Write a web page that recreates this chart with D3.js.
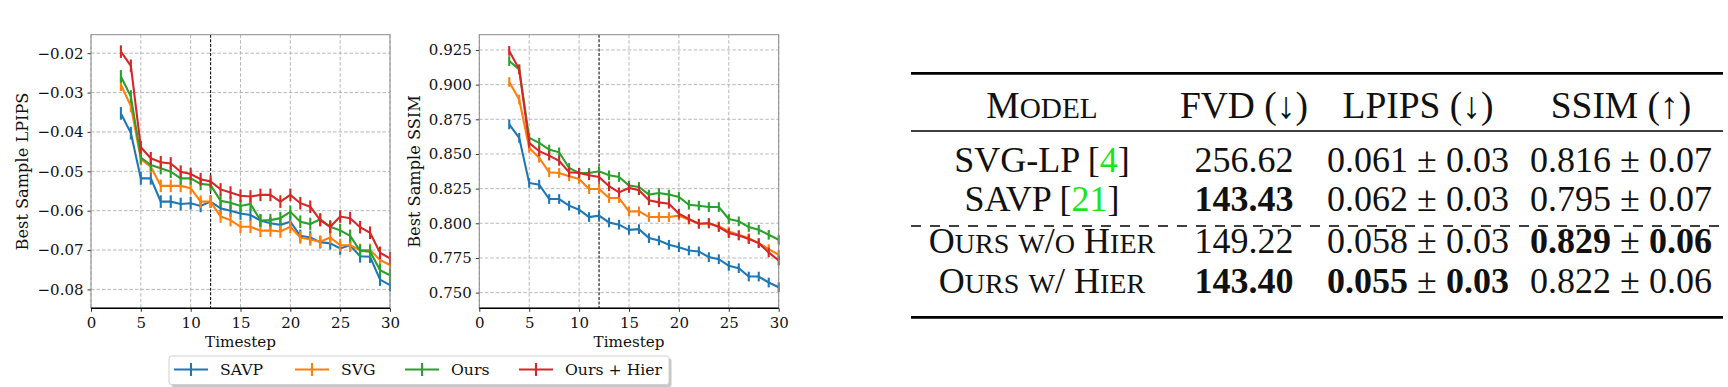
<!DOCTYPE html>
<html>
<head>
<meta charset="utf-8">
<script src="https://cdn.jsdelivr.net/npm/d3@7"></script>
<style>
body { margin: 0; background: #fff; }
svg { display: block; }
</style>
</head>
<body>
<svg id="fig" width="1728" height="387"></svg>
<script>
// ---- data ----
var timesteps = [3,4,5,6,7,8,9,10,11,12,13,14,15,16,17,18,19,20,21,22,23,24,25,26,27,28,29,30]
var seriesNames = ['SAVP', 'SVG', 'Ours', 'Ours + Hier']
var colors = ['#1f77b4', '#ff7f0e', '#2ca02c', '#d62728']

var lpipsSAVP = [-0.0353,-0.0403,-0.0518,-0.0518,-0.0577,-0.0577,-0.0583,-0.0581,-0.0588,-0.0577,-0.0594,-0.0600,-0.0607,-0.0611,-0.0625,-0.0632,-0.0636,-0.0628,-0.0664,-0.0668,-0.0680,-0.0683,-0.0696,-0.0688,-0.0716,-0.0717,-0.0775,-0.0789]
var lpipsSVG  = [-0.0280,-0.0334,-0.0469,-0.0488,-0.0537,-0.0537,-0.0537,-0.0543,-0.0577,-0.0577,-0.0615,-0.0624,-0.0641,-0.0641,-0.0651,-0.0650,-0.0653,-0.0641,-0.0668,-0.0673,-0.0679,-0.0668,-0.0688,-0.0688,-0.0700,-0.0700,-0.0725,-0.0738]
var lpipsOurs = [-0.0259,-0.0310,-0.0465,-0.0484,-0.0492,-0.0501,-0.0518,-0.0518,-0.0532,-0.0535,-0.0575,-0.0580,-0.0588,-0.0583,-0.0625,-0.0624,-0.0619,-0.0603,-0.0628,-0.0634,-0.0622,-0.0641,-0.0650,-0.0664,-0.0702,-0.0704,-0.0751,-0.0764]
var lpipsHier = [-0.0196,-0.0232,-0.0439,-0.0467,-0.0477,-0.0480,-0.0501,-0.0507,-0.0520,-0.0526,-0.0546,-0.0554,-0.0562,-0.0564,-0.0560,-0.0560,-0.0577,-0.0560,-0.0581,-0.0590,-0.0624,-0.0641,-0.0615,-0.0619,-0.0642,-0.0656,-0.0707,-0.0721]
var lpipsErr = [0.0016, 0.0016, 0.0016, 0.0016]

var ssimSAVP = [0.8713,0.8616,0.8291,0.8279,0.8175,0.8175,0.8127,0.8098,0.8045,0.8055,0.8006,0.7990,0.7953,0.7958,0.7893,0.7876,0.7845,0.7828,0.7804,0.7797,0.7756,0.7741,0.7693,0.7676,0.7616,0.7616,0.7573,0.7539]
var ssimSVG  = [0.9019,0.8893,0.8544,0.8472,0.8368,0.8363,0.8339,0.8320,0.8247,0.8247,0.8182,0.8182,0.8086,0.8086,0.8045,0.8045,0.8045,0.8055,0.8026,0.7997,0.7997,0.7978,0.7941,0.7917,0.7893,0.7857,0.7814,0.7773]
var ssimOurs = [0.9170,0.9110,0.8616,0.8580,0.8532,0.8512,0.8399,0.8363,0.8363,0.8375,0.8346,0.8334,0.8272,0.8262,0.8207,0.8218,0.8207,0.8190,0.8134,0.8127,0.8117,0.8117,0.8031,0.8014,0.7973,0.7953,0.7917,0.7881]
var ssimHier = [0.9243,0.9110,0.8580,0.8520,0.8488,0.8450,0.8368,0.8363,0.8346,0.8334,0.8267,0.8223,0.8255,0.8238,0.8166,0.8151,0.8141,0.8069,0.8031,0.7997,0.8002,0.7973,0.7929,0.7912,0.7886,0.7857,0.7790,0.7732]
var ssimErr = [0.0035, 0.0035, 0.0035, 0.0035]

var xTicks = [0, 5, 10, 15, 20, 25, 30]
var lpipsTicks = [-0.08, -0.07, -0.06, -0.05, -0.04, -0.03, -0.02]
var ssimTicks = [0.750, 0.775, 0.800, 0.825, 0.850, 0.875, 0.900, 0.925]
var splitStep = 12

// table
var tableHeaders = ['Model', 'FVD (\u2193)', 'LPIPS (\u2193)', 'SSIM (\u2191)']
var modelNames = ['SVG-LP', 'SAVP', 'Ours w/o Hier', 'Ours w/ Hier']
var modelCites = ['4', '21', null, null]
var fvdValues = [256.62, 143.43, 149.22, 143.40]
var lpipsMean = [0.061, 0.062, 0.058, 0.055]
var lpipsStd  = [0.03, 0.03, 0.03, 0.03]
var ssimMean  = [0.816, 0.795, 0.829, 0.822]
var ssimStd   = [0.07, 0.07, 0.06, 0.06]
var fvdBold   = [false, true, false, true]
var lpipsBold = [false, false, false, true]
var ssimBold  = [false, false, true, false]

var svg = d3.select('#fig')
svg.append('rect').attr('width', 1728).attr('height', 387).attr('fill', '#fff')

var plotFont = "'DejaVu Serif', serif"
var plotTop = 34.7, plotBottom = 308.3

function drawPanel(opts) {
  var x = d3.scaleLinear().domain([0, 30]).range([opts.left, opts.right])
  var y = d3.scaleLinear().domain(opts.yDomain).range([plotBottom, plotTop])
  var g = svg.append('g')

  // grid
  g.append('g').selectAll('line').data(xTicks).enter().append('line')
    .attr('x1', d => x(d)).attr('x2', d => x(d)).attr('y1', plotTop).attr('y2', plotBottom)
    .attr('stroke', '#b0b0b0').attr('stroke-width', 0.9).attr('stroke-dasharray', '3.5,2')
  g.append('g').selectAll('line').data(opts.yTicks).enter().append('line')
    .attr('x1', opts.left).attr('x2', opts.right).attr('y1', d => y(d)).attr('y2', d => y(d))
    .attr('stroke', '#b0b0b0').attr('stroke-width', 0.9).attr('stroke-dasharray', '3.5,2')

  // split marker
  g.append('line')
    .attr('x1', x(splitStep)).attr('x2', x(splitStep)).attr('y1', plotTop).attr('y2', plotBottom)
    .attr('stroke', '#111').attr('stroke-width', 1.1).attr('stroke-dasharray', '3,1.6')

  // series with error bars
  opts.series.forEach((vals, i) => {
    var pts = timesteps.map((t, j) => ({t: t, v: vals[j]}))
    g.append('path').datum(pts)
      .attr('fill', 'none').attr('stroke', colors[i]).attr('stroke-width', 2.1)
      .attr('d', d3.line().x(d => x(d.t)).y(d => y(d.v)))
    g.append('g').selectAll('line').data(pts).enter().append('line')
      .attr('x1', d => x(d.t)).attr('x2', d => x(d.t))
      .attr('y1', d => y(d.v - opts.err[i])).attr('y2', d => y(d.v + opts.err[i]))
      .attr('stroke', colors[i]).attr('stroke-width', 2.1)
  })

  // axes
  var ax = g.append('g').attr('transform', 'translate(0,' + plotBottom + ')')
    .call(d3.axisBottom(x).tickValues(xTicks).tickSize(3.5).tickPadding(3))
  var ay = g.append('g').attr('transform', 'translate(' + opts.left + ',0)')
    .call(d3.axisLeft(y).tickValues(opts.yTicks).tickFormat(d3.format(opts.fmt)).tickSize(3.5).tickPadding(4))
  ax.select('.domain').remove()
  ay.select('.domain').remove()
  ;[ax, ay].forEach(a => {
    a.selectAll('text').attr('font-family', plotFont).attr('font-size', 15).attr('fill', '#111')
    a.selectAll('line').attr('stroke', '#333')
  })
  ax.selectAll('text').attr('dy', '0.85em')

  // spines
  g.append('rect').attr('x', opts.left).attr('y', plotTop)
    .attr('width', opts.right - opts.left).attr('height', plotBottom - plotTop)
    .attr('fill', 'none').attr('stroke', '#8a8a8a').attr('stroke-width', 1)
  g.append('line').attr('x1', opts.left).attr('x2', opts.right).attr('y1', plotBottom).attr('y2', plotBottom)
    .attr('stroke', '#000').attr('stroke-width', 1.4)

  // labels
  g.append('text').text('Timestep')
    .attr('x', (opts.left + opts.right) / 2).attr('y', 347)
    .attr('text-anchor', 'middle').attr('font-family', plotFont).attr('font-size', 15.2).attr('fill', '#111')
  g.append('text').text(opts.yLabel)
    .attr('transform', 'translate(' + opts.yLabelX + ',' + (plotTop + plotBottom) / 2 + ') rotate(-90)')
    .attr('text-anchor', 'middle').attr('font-family', plotFont).attr('font-size', 16.2).attr('fill', '#111')
}

drawPanel({
  left: 91, right: 390, yDomain: [-0.0848, -0.0153], yTicks: lpipsTicks, fmt: '.2f',
  series: [lpipsSAVP, lpipsSVG, lpipsOurs, lpipsHier], err: lpipsErr,
  yLabel: 'Best Sample LPIPS', yLabelX: 27.5
})
drawPanel({
  left: 479.3, right: 778.7, yDomain: [0.7387, 0.936], yTicks: ssimTicks, fmt: '.3f',
  series: [ssimSAVP, ssimSVG, ssimOurs, ssimHier], err: ssimErr,
  yLabel: 'Best Sample SSIM', yLabelX: 419.5
})

// legend
var leg = svg.append('g').attr('transform', 'translate(169,356)')
leg.append('rect').attr('x', 2.5).attr('y', 2.5).attr('width', 500).attr('height', 28.5).attr('rx', 2.5)
  .attr('fill', '#999').attr('opacity', 0.55)
leg.append('rect').attr('width', 500).attr('height', 28.5).attr('rx', 2.5)
  .attr('fill', '#fff').attr('stroke', '#d0d0d0').attr('stroke-width', 1)
var legX = [5, 126, 236, 350]
seriesNames.forEach((name, i) => {
  var e = leg.append('g').attr('transform', 'translate(' + legX[i] + ',13.5)')
  e.append('line').attr('x1', 0).attr('x2', 34).attr('stroke', colors[i]).attr('stroke-width', 2.1)
  e.append('line').attr('x1', 17).attr('x2', 17).attr('y1', -6.5).attr('y2', 6.5).attr('stroke', colors[i]).attr('stroke-width', 2.1)
  e.append('text').text(name).attr('x', 46).attr('y', 5.5)
    .attr('font-family', plotFont).attr('font-size', 15.7).attr('fill', '#111')
})

// ---- table ----
var tfont = "'Liberation Serif', 'Times New Roman', serif"
var tbl = svg.append('g').attr('font-family', tfont).attr('fill', '#111')
var ruleL = 911, ruleR = 1723
var colX = [1042, 1244, 1418, 1621]
var headerY = 118
var rowY = [171.5, 210.5, 252.5, 293]

tbl.append('line').attr('x1', ruleL).attr('x2', ruleR).attr('y1', 73.3).attr('y2', 73.3).attr('stroke', '#000').attr('stroke-width', 2.8)
tbl.append('line').attr('x1', ruleL).attr('x2', ruleR).attr('y1', 131).attr('y2', 131).attr('stroke', '#000').attr('stroke-width', 1.6)
tbl.append('line').attr('x1', ruleL).attr('x2', ruleR).attr('y1', 226).attr('y2', 226).attr('stroke', '#000').attr('stroke-width', 1.4).attr('stroke-dasharray', '10,9')
tbl.append('line').attr('x1', ruleL).attr('x2', ruleR).attr('y1', 317.3).attr('y2', 317.3).attr('stroke', '#000').attr('stroke-width', 2.8)

// small caps: capitals at full size, lower case drawn as smaller capitals
function smallCaps(sel, str, size) {
  var runs = []
  str.split('').forEach(ch => {
    var small = ch !== ch.toUpperCase()
    var last = runs[runs.length - 1]
    if (last && last.small === small) last.t += ch
    else runs.push({t: ch, small: small})
  })
  runs.forEach(r => {
    sel.append('tspan').text(r.small ? r.t.toUpperCase() : r.t)
      .attr('font-size', r.small ? size * 0.78 : size)
  })
}

function cell(x, y, parts, size) {
  var t = tbl.append('text').attr('x', x).attr('y', y).attr('text-anchor', 'middle')
    .attr('font-size', size).style('white-space', 'pre')
  parts.forEach(p => {
    var s = t.append('tspan').text(p.t)
    if (p.b) s.attr('font-weight', 'bold')
    if (p.c) s.attr('fill', p.c)
  })
  return t
}

var headSize = 37.5, bodySize = 36
var h0 = tbl.append('text').attr('x', colX[0]).attr('y', headerY).attr('text-anchor', 'middle')
smallCaps(h0, tableHeaders[0], headSize)
tableHeaders.slice(1).forEach((h, i) => cell(colX[i + 1], headerY, [{t: h}], headSize))

modelNames.forEach((m, i) => {
  if (modelCites[i]) {
    cell(colX[0], rowY[i], [{t: m + ' ['}, {t: modelCites[i], c: '#19e619'}, {t: ']'}], bodySize)
  } else {
    var t = tbl.append('text').attr('x', colX[0]).attr('y', rowY[i]).attr('text-anchor', 'middle').style('white-space', 'pre')
    smallCaps(t, m, bodySize)
  }
  cell(colX[1], rowY[i], [{t: fvdValues[i].toFixed(2), b: fvdBold[i]}], bodySize)
  cell(colX[2], rowY[i], [{t: lpipsMean[i].toFixed(3), b: lpipsBold[i]}, {t: ' \u00b1 '}, {t: lpipsStd[i].toFixed(2), b: lpipsBold[i]}], bodySize)
  cell(colX[3], rowY[i], [{t: ssimMean[i].toFixed(3), b: ssimBold[i]}, {t: ' \u00b1 '}, {t: ssimStd[i].toFixed(2), b: ssimBold[i]}], bodySize)
})
</script>
</body>
</html>
